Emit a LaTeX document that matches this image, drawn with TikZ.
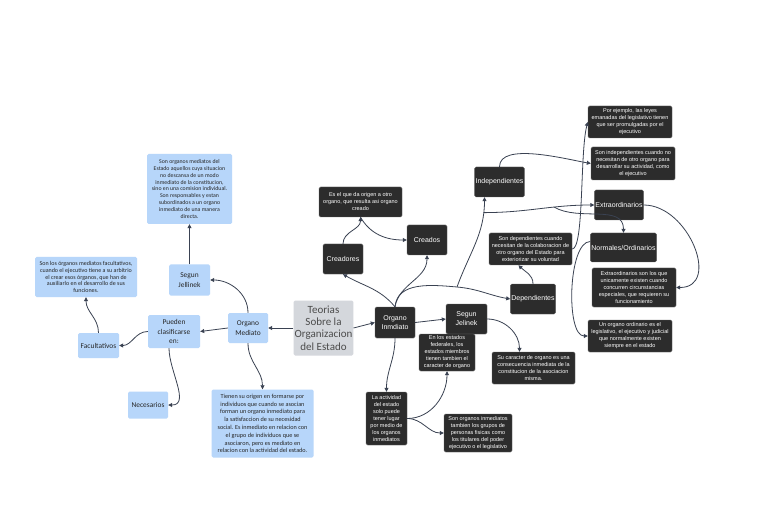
\documentclass[tikz,border=0pt]{standalone}
\usepackage{fontspec}
\setmainfont{Carlito}
\newfontfamily\arialfont{Liberation Sans}
\usetikzlibrary{arrows.meta}

\definecolor{bluebox}{RGB}{183,214,250}
\definecolor{darkbox}{RGB}{44,44,44}
\definecolor{graybox}{RGB}{212,215,220}
\definecolor{linkgray}{RGB}{58,66,82}

\begin{document}
\begin{tikzpicture}[x=1pt,y=1pt,
    sz/.style 2 args={minimum width=#1pt,minimum height=#2pt},
    bluenode/.style={fill=bluebox,rounded corners=1.5pt,align=center,inner sep=1pt,
        text=black!85,font=\fontsize{7.4}{9.3}\selectfont},
    bluetext/.style={bluenode,font=\fontsize{6}{7.2}\selectfont},
    darknode/.style={fill=darkbox,draw=darkbox!75!white,line width=0.4pt,rounded corners=1.5pt,
        align=center,inner sep=1pt,text=white,font=\arialfont\fontsize{7}{9}\selectfont},
    darktext/.style={darknode,font=\arialfont\fontsize{5.5}{7}\selectfont},
    link/.style={linkgray,line width=0.8pt,-{Triangle[length=4pt,width=4pt]}}
]

\fill[white] (0,0) rectangle (768,512);
\useasboundingbox (0,0) rectangle (768,512);

% Central topic
\node[fill=graybox,rounded corners=1.5pt,align=center,inner sep=1pt,text=black!70,
    font=\fontsize{11}{12.3}\selectfont,sz={57}{55}] (teorias) at (323.5,184)
    {Teorias\\Sobre la\\Organizacion\\del Estado};

% Mediato side (blue)
\node[bluenode,sz={40}{30}] (omed) at (248,184) {Organo\\Mediato};
\node[bluenode,sz={52}{33}] (pueden) at (174,180.5) {Pueden\\clasificarse\\en:};
\node[bluenode,sz={41}{31}] (segunL) at (189.5,232) {Segun\\Jellinek};
\node[bluetext,sz={85}{70},font=\fontsize{5.8}{6.9}\selectfont] (jelltxt) at (189.5,323)
    {Son organos mediatos del\\Estado aquellos cuya situacion\\no descansa de un modo\\inmediato de la constitucion,\\sino en una comision individual.\\Son responsables y estan\\subordinados a un organo\\inmediato de una manera\\directa.};
\node[bluetext,sz={102}{40},font=\fontsize{6}{6.8}\selectfont] (factxt) at (86,235)
    {Son los órganos mediatos facultativos,\\cuando el ejecutivo tiene a su arbitrio\\el crear esos órganos, que han de\\auxiliarlo en el desarrollo de sus\\funciones.};
\node[bluenode,sz={41}{25}] (facult) at (98.5,166.5) {Facultativos};
\node[bluenode,sz={40}{27}] (neces) at (148,107) {Necesarios};
\node[bluetext,sz={102}{68},font=\fontsize{6.2}{7.8}\selectfont] (medtxt) at (262.5,88.5)
    {Tienen su origen en formarse por\\individuos que cuando se asocian\\forman un organo inmediato para\\la satisfaccion de su necesidad\\social. Es inmediato en relacion con\\el grupo de individuos que se\\asociaron, pero es mediato en\\relacion con la actividad del estado.};

% Inmediato side (dark)
\node[darknode,sz={40}{31}] (oinm) at (395,189.5) {Organo\\Inmdiato};
\node[darknode,sz={40}{30}] (creadores) at (343,253) {Creadores};
\node[darktext,sz={83}{30}] (esque) at (360.5,310)
    {Es el que da origen a otro\\organo, que resulta asi organo\\creado};
\node[darknode,sz={40}{30}] (creados) at (427,272) {Creados};
\node[darknode,sz={47}{30}] (indep) at (499.5,330) {Independientes};
\node[darknode,sz={41}{30}] (segunR) at (466.5,193) {Segun\\Jelinek};
\node[darknode,sz={40}{30}] (depend) at (533,213) {Dependientes};
\node[darktext,sz={83}{32}] (sondep) at (530.5,263)
    {Son dependientes cuando\\necesitan de la colaboracion de\\otro organo del Estado para\\exteriorizar su voluntad};
\node[darktext,sz={84}{32}] (porej) at (630,390)
    {Por ejemplo, las leyes\\emanadas del legislativo tienen\\que ser promulgadas por el\\ejecutivo};
\node[darktext,sz={84}{33}] (sonind) at (633,348.5)
    {Son independientes cuando no\\necesitan de otro organo para\\desarrollar su actividad, como\\el ejecutivo};
\node[darknode,sz={48}{30}] (extra) at (619,307) {Extraordinarios};
\node[darknode,sz={65}{29}] (normal) at (623.5,264.5) {Normales/Ordinarios};
\node[darktext,sz={84}{39}] (extratxt) at (634,224.5)
    {Extraordinarios son los que\\unicamente existen cuando\\concurren circunstancias\\especiales, que requieren su\\funcionamiento};
\node[darktext,sz={84}{32}] (ordtxt) at (630,176)
    {Un organo ordinario es el\\legislativo, el ejecutivo y judicial\\que normalmente existen\\siempre en el estado};
\node[darktext,sz={56}{37}] (federal) at (447,159.5)
    {En los estados\\federales, los\\estados miembros\\tienen tambien el\\caracter de organo};
\node[darktext,sz={83}{32}] (caracter) at (533.5,144)
    {Su caracter de organo es una\\consecuencia inmediata de la\\constitucion de la asociacion\\misma.};
\node[darktext,sz={41}{53}] (activ) at (386.5,93.5)
    {La actividad\\del estado\\solo puede\\tener lugar\\por medio de\\los organos\\inmediatos};
\node[darktext,sz={68}{38}] (grupos) at (478,79)
    {Son organos inmediatos\\tambien los grupos de\\personas fisicas como\\los titulares del poder\\ejecutivo o el legislativo};

% Connectors, mediato side
\draw[link] (teorias.west) -- (omed.east);
\draw[link] (omed.west) -- (pueden.east);
\draw[link] (omed.north) to[out=90,in=0] (segunL.east);
\draw[link] (omed.south) to[out=-90,in=90] (medtxt.north);
\draw[link] (segunL.north) -- (jelltxt.south);
\draw[link] (pueden.west) to[out=180,in=0] (facult.east);
\draw[link] ([xshift=-5pt]pueden.south) to[out=-90,in=0] (neces.east);
\draw[link] (facult.north) to[out=90,in=-90] (factxt.south);

% Connectors, inmediato side
\coordinate (split) at (457,225);
\draw[link] (teorias.east) -- (oinm.west);
\draw[link] (oinm.north) to[out=130,in=-30] (creadores.south);
\draw[link] (oinm.north) to[out=80,in=-90] (creados.south);
\draw[link] (creadores.north) to[out=90,in=-90] (esque.south);
\draw[link] (esque.south) to[out=-60,in=180] (creados.west);
\draw[link] (oinm.north) to[out=85,in=175] (split) to[out=-5,in=170] (depend.west);
\draw[link] (split) to[out=70,in=-90] node[coordinate,pos=0.85] (fork) {} ([xshift=-15pt]indep.south);
\draw[link] (fork) to[out=0,in=180] node[coordinate,pos=0.65] (fork2) {} (extra.west);
\draw[link] (fork2) to[out=-30,in=90] (normal.north);
\draw[link] (indep.north) to[out=90,in=170,looseness=0.7] (sonind.west);
\draw[link] (depend.north) to[out=90,in=-45] ([xshift=-12pt]sondep.south);
\draw[link] (sondep.east) .. controls +(12,0) and +(-8,-30) .. (porej.west);
\draw[link] (extra.east) to[out=0,in=0,looseness=1.3] (extratxt.east);
\draw[link] ([yshift=6pt]normal.west) to[out=180,in=180,looseness=0.6] (ordtxt.west);
\draw[link] (oinm.east) -- (segunR.west);
\draw[link] (oinm.south) to[out=-90,in=90] (activ.north);
\draw[link] (segunR.east) to[out=0,in=90] ([xshift=-14pt]caracter.north);
\draw[link] (activ.east) to[out=0,in=-90] (federal.south);
\draw[link] (activ.east) to[out=0,in=180] (grupos.west);

\end{tikzpicture}
\end{document}
